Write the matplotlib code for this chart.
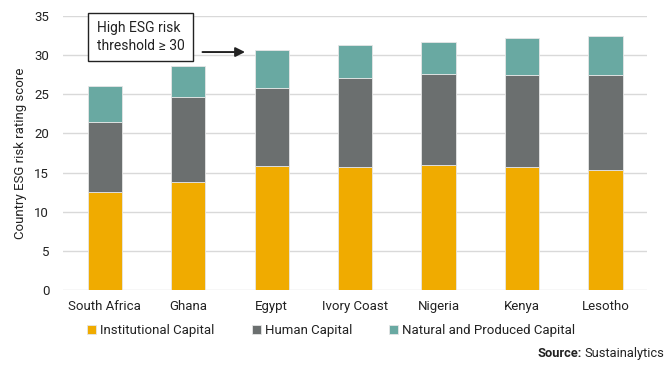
import matplotlib.pyplot as plt
import numpy as np

plt.rcParams['font.family'] = ['Roboto', 'DejaVu Sans']

# Data
countries = ['South Africa', 'Ghana', 'Egypt', 'Ivory Coast', 'Nigeria', 'Kenya', 'Lesotho']
institutional = [12.5, 13.8, 15.8, 15.7, 16.0, 15.7, 15.3]
human = [8.9, 10.8, 10.0, 11.4, 11.6, 11.8, 12.2]
natural = [4.6, 4.0, 4.9, 4.2, 4.1, 4.7, 5.0]

colors = ['#F0AB00', '#6B6F6F', '#69A9A2']
labels = ['Institutional Capital', 'Human Capital', 'Natural and Produced Capital']
text_col = '#222222'

fig = plt.figure(figsize=(6.72, 3.73), dpi=100)
ax = fig.add_axes([0.094, 0.2225, 0.869, 0.7345])

x = np.arange(len(countries))
width = 0.41
bottom = np.zeros(len(countries))
for vals, c, lab in zip([institutional, human, natural], colors, labels):
    ax.bar(x, vals, width, bottom=bottom, color=c, label=lab,
           edgecolor='#E6E6E6', linewidth=0.6, zorder=3)
    bottom += np.array(vals)

ax.set_xlim(-0.5, len(countries) - 0.5)
ax.set_ylim(0, 35)
ax.set_yticks(range(0, 36, 5))
ax.set_xticks(x)
ax.set_xticklabels(countries, fontsize=9.5, color=text_col)
ax.tick_params(axis='y', labelsize=9.5, colors=text_col, length=0, pad=10)
ax.tick_params(axis='x', length=0, pad=7)
ax.yaxis.grid(True, color='#D9D9D9', linewidth=1, zorder=0)
for s in ax.spines.values():
    s.set_visible(False)

fig.text(21 / 672, 1 - 153 / 373, 'Country ESG risk rating score', rotation=90,
         ha='center', va='center', fontsize=9.5, color=text_col)

# Threshold annotation
ax.annotate('', xy=(1.68, 30.4), xytext=(1.17, 30.4),
            arrowprops=dict(arrowstyle='-|>', color=text_col, lw=1.4,
                            mutation_scale=14, shrinkA=0, shrinkB=0))
ax.text(-0.1, 32.35, 'High ESG risk\nthreshold ≥ 30', fontsize=10, color=text_col,
        ha='left', va='center', linespacing=1.35,
        bbox=dict(boxstyle='square,pad=0.6', facecolor='white', edgecolor=text_col, linewidth=1))

leg = fig.legend(loc='center', bbox_to_anchor=(0.493, 0.113), ncol=3, frameon=False,
                 fontsize=9.5, handlelength=0.7, handleheight=0.7, handletextpad=0.3,
                 columnspacing=2.8)
for t in leg.get_texts():
    t.set_color(text_col)

src = fig.text(0.988, 0.053, 'Sustainalytics', ha='right', va='center',
               fontsize=9.3, color=text_col)
fig.canvas.draw()
bb = src.get_window_extent().transformed(fig.transFigure.inverted())
fig.text(bb.x0 - 0.004, 0.053, 'Source:', ha='right', va='center',
         fontsize=9.3, color=text_col, fontweight='bold')

fig.savefig('out.png', dpi=100)
